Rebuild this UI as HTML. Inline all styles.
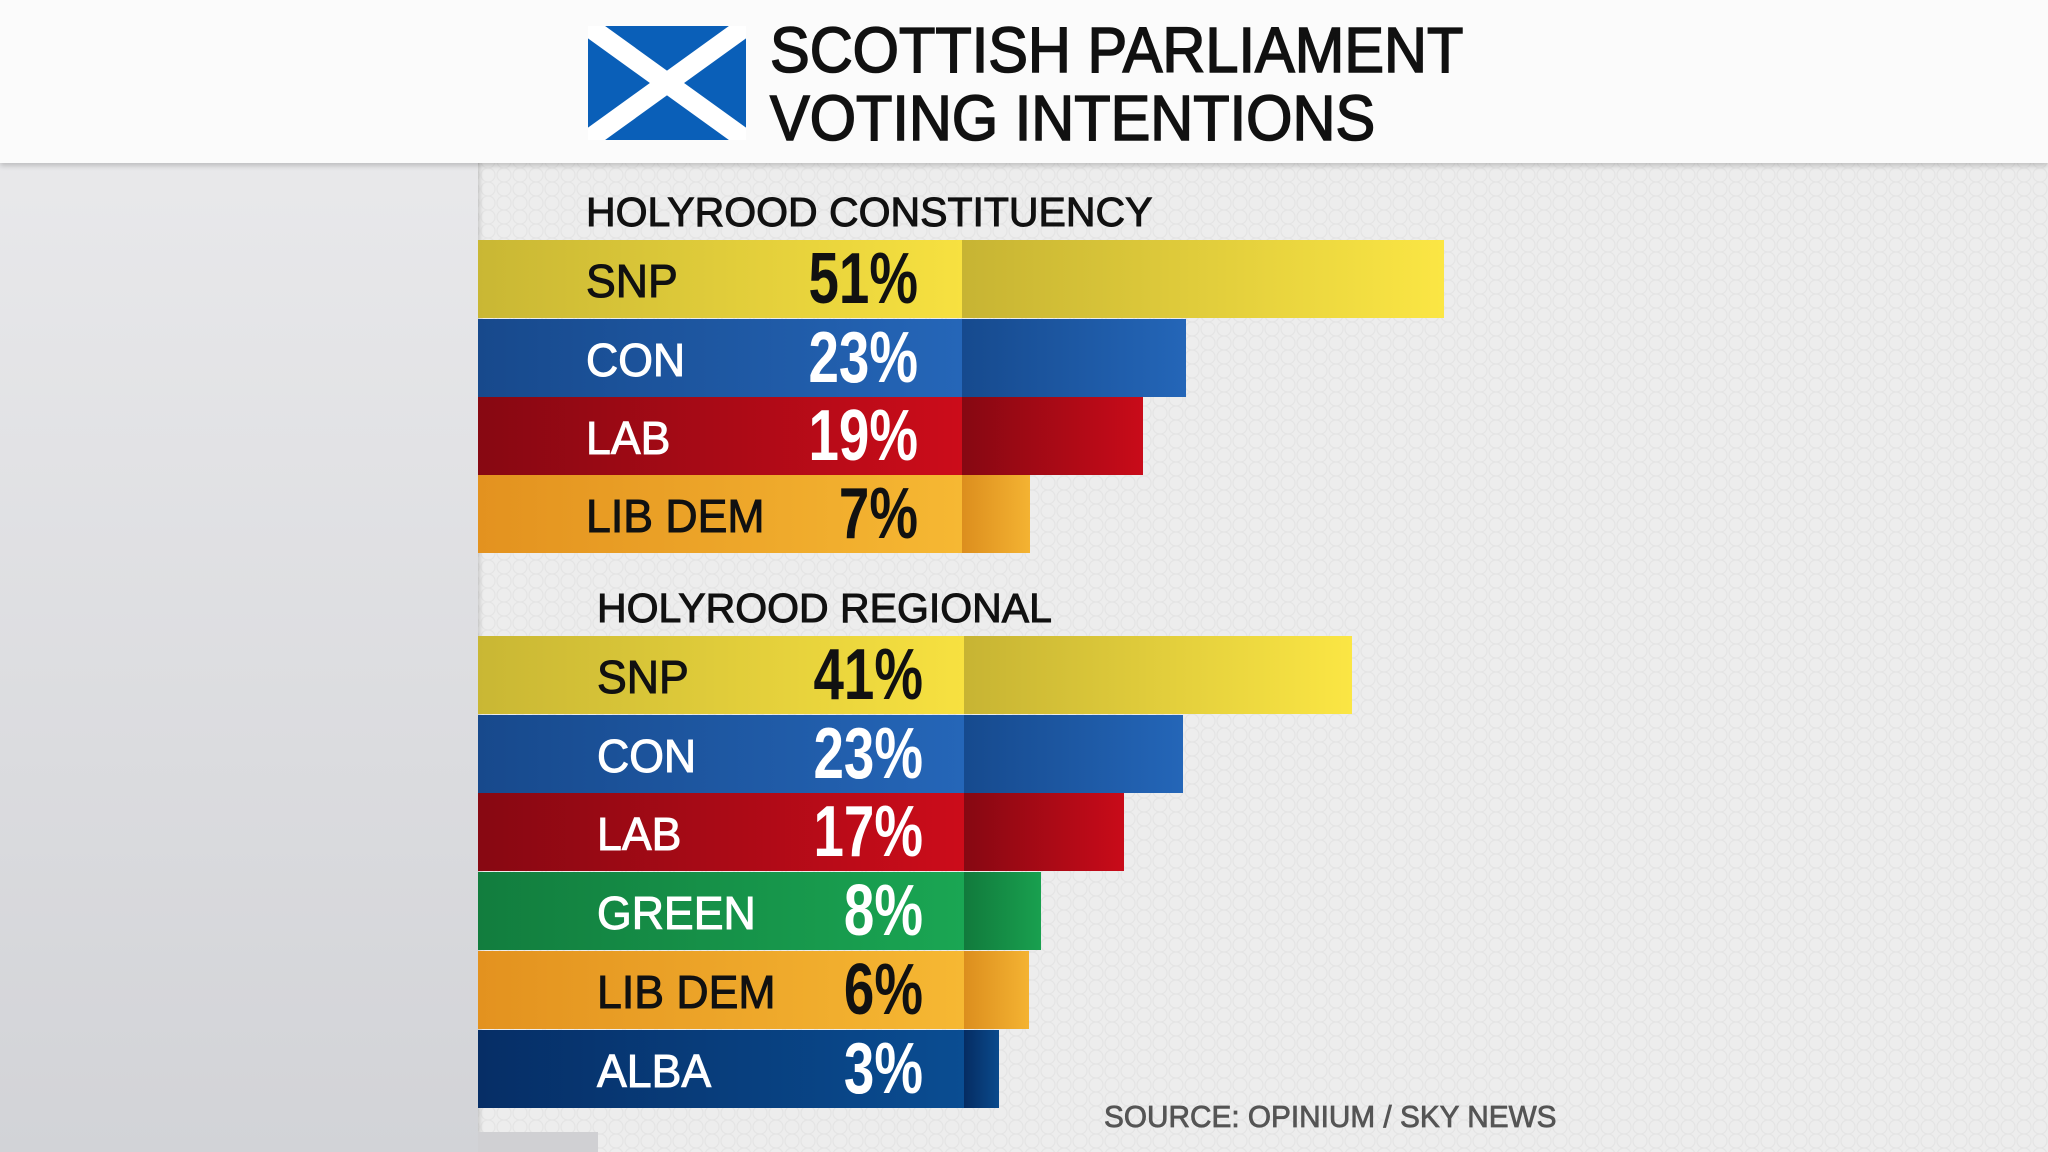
<!DOCTYPE html>
<html><head><meta charset="utf-8"><style>
body{margin:0;width:2048px;height:1152px;overflow:hidden;font-family:"Liberation Sans",sans-serif;position:relative;
background:repeating-radial-gradient(circle at 50% 50%,#ededed 0,#ededed 6px,#e2e2e2 7px,#ededed 8px);background-size:16px 14px;background-color:#ececec}
.abs{position:absolute}
.left{left:0;top:0;width:478px;height:1152px;background:linear-gradient(#ececee,#d2d3d7);box-shadow:2px 0 4px rgba(0,0,0,.15)}
.head{left:0;top:0;width:2048px;height:163px;background:#fbfbfb;box-shadow:0 3px 5px rgba(0,0,0,.18)}
.t{white-space:nowrap;transform-origin:left center;display:inline-block}
.bar{left:478px;height:78px}
.bar .a{position:absolute;left:0;top:0;bottom:0;width:484px}
.bar .b{position:absolute;left:484px;top:0;bottom:0;right:0}
.lab{position:absolute;font-size:46px;transform:scaleX(.97);transform-origin:left center;top:14px;white-space:nowrap;-webkit-text-stroke:1px currentColor}
.pct{position:absolute;font-size:72px;font-weight:bold;transform:scaleX(.76);transform-origin:right center;top:0;right:0;width:400px;text-align:right;line-height:78px}
</style></head><body>
<div class="abs left"></div>
<div class="abs head"></div>
<div class="abs" style="left:478px;top:1132px;width:120px;height:20px;background:#d0d0d3"></div>
<svg class="abs" style="left:588px;top:26px" width="158" height="114" viewBox="0 0 158 114">
<rect width="158" height="114" fill="#0a5fb8"/>
<path d="M0 0L158 114M158 0L0 114" stroke="#fff" stroke-width="20"/>
</svg>
<div class="abs" style="left:770px;top:18px;font-size:64px;line-height:64px;color:#111;-webkit-text-stroke:1.6px #111"><span class="t" style="transform:scaleX(.93)">SCOTTISH PARLIAMENT</span></div>
<div class="abs" style="left:770px;top:86px;font-size:64px;line-height:64px;color:#111;-webkit-text-stroke:1.6px #111"><span class="t" style="transform:scaleX(.93)">VOTING INTENTIONS</span></div>
<div class="abs" style="left:586px;top:189px;font-size:41px;line-height:46px;color:#111;-webkit-text-stroke:1px #111"><span class="t" style="transform:scaleX(1.0)">HOLYROOD CONSTITUENCY</span></div>
<div class="abs" style="left:597px;top:585px;font-size:41px;line-height:46px;color:#111;-webkit-text-stroke:1px #111"><span class="t" style="transform:scaleX(1.0)">HOLYROOD REGIONAL</span></div>

<div class="abs bar" style="top:240px;width:966px"><div class="a" style="background:linear-gradient(90deg,#c9b734,#f7e140)"></div><div class="b" style="background:linear-gradient(90deg,#c7b433,#fbe644)"></div>
<div class="lab" style="left:108px;color:#111">SNP</div><div class="pct" style="left:40px;width:400px;color:#111">51%</div></div>
<div class="abs bar" style="top:319px;width:708px"><div class="a" style="background:linear-gradient(90deg,#17498c,#2566b8)"></div><div class="b" style="background:linear-gradient(90deg,#164a8e,#2466b8)"></div>
<div class="lab" style="left:108px;color:#fff">CON</div><div class="pct" style="left:40px;width:400px;color:#fff">23%</div></div>
<div class="abs bar" style="top:397px;width:665px"><div class="a" style="background:linear-gradient(90deg,#870812,#cc0c1a)"></div><div class="b" style="background:linear-gradient(90deg,#860812,#c90b19)"></div>
<div class="lab" style="left:108px;color:#fff">LAB</div><div class="pct" style="left:40px;width:400px;color:#fff">19%</div></div>
<div class="abs bar" style="top:475px;width:552px"><div class="a" style="background:linear-gradient(90deg,#e3921f,#f6b833)"></div><div class="b" style="background:linear-gradient(90deg,#dc8e1e,#f4b332)"></div>
<div class="lab" style="left:108px;color:#111">LIB DEM</div><div class="pct" style="left:40px;width:400px;color:#111">7%</div></div>

<div class="abs bar" style="top:636px;width:874px"><div class="a" style="width:486px;background:linear-gradient(90deg,#c9b734,#f7e140)"></div><div class="b" style="left:486px;background:linear-gradient(90deg,#c7b433,#fbe644)"></div>
<div class="lab" style="left:119px;color:#111">SNP</div><div class="pct" style="left:45px;width:400px;color:#111">41%</div></div>
<div class="abs bar" style="top:715px;width:705px"><div class="a" style="width:486px;background:linear-gradient(90deg,#17498c,#2566b8)"></div><div class="b" style="left:486px;background:linear-gradient(90deg,#164a8e,#2466b8)"></div>
<div class="lab" style="left:119px;color:#fff">CON</div><div class="pct" style="left:45px;width:400px;color:#fff">23%</div></div>
<div class="abs bar" style="top:793px;width:646px"><div class="a" style="width:486px;background:linear-gradient(90deg,#870812,#cc0c1a)"></div><div class="b" style="left:486px;background:linear-gradient(90deg,#860812,#c90b19)"></div>
<div class="lab" style="left:119px;color:#fff">LAB</div><div class="pct" style="left:45px;width:400px;color:#fff">17%</div></div>
<div class="abs bar" style="top:872px;width:563px"><div class="a" style="width:486px;background:linear-gradient(90deg,#127d3e,#1aa653)"></div><div class="b" style="left:486px;background:linear-gradient(90deg,#117a3c,#19a04f)"></div>
<div class="lab" style="left:119px;color:#fff">GREEN</div><div class="pct" style="left:45px;width:400px;color:#fff">8%</div></div>
<div class="abs bar" style="top:951px;width:551px"><div class="a" style="width:486px;background:linear-gradient(90deg,#e3921f,#f6b833)"></div><div class="b" style="left:486px;background:linear-gradient(90deg,#dc8e1e,#f4b332)"></div>
<div class="lab" style="left:119px;color:#111">LIB DEM</div><div class="pct" style="left:45px;width:400px;color:#111">6%</div></div>
<div class="abs bar" style="top:1030px;width:521px"><div class="a" style="width:486px;background:linear-gradient(90deg,#062e66,#0a4d92)"></div><div class="b" style="left:486px;background:linear-gradient(90deg,#052c62,#0a4a8c)"></div>
<div class="lab" style="left:119px;color:#fff">ALBA</div><div class="pct" style="left:45px;width:400px;color:#fff">3%</div></div>

<div class="abs" style="left:1104px;top:1099px;font-size:31px;line-height:36px;color:#555;-webkit-text-stroke:.8px #555"><span class="t" style="transform:scaleX(.96)">SOURCE: OPINIUM / SKY NEWS</span></div>
</body></html>
